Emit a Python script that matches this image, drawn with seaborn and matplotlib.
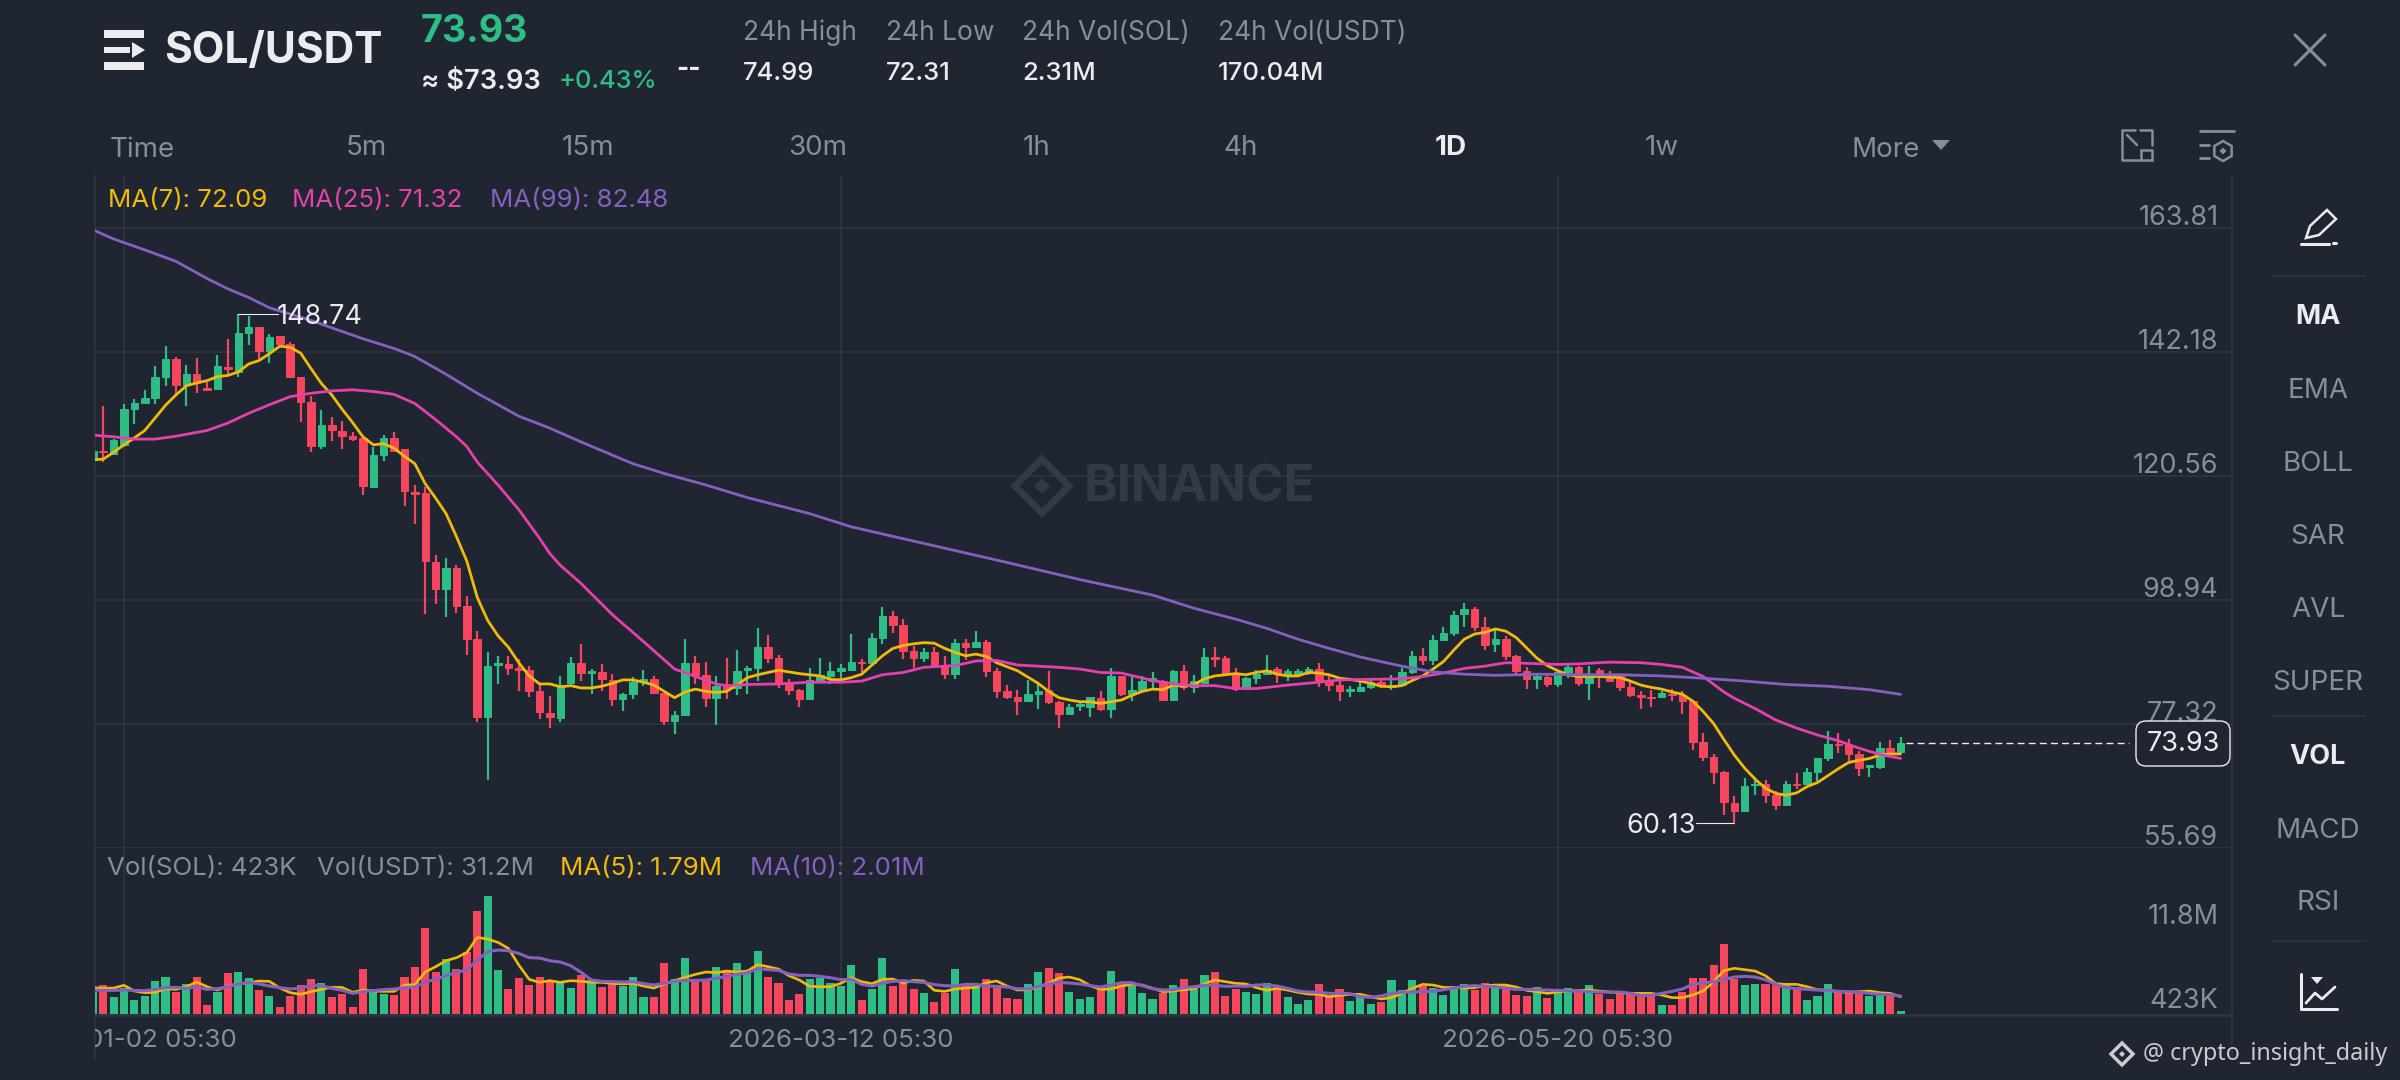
import numpy as np
import pandas as pd
import seaborn as sns
import matplotlib
matplotlib.use("Agg")
import matplotlib.pyplot as plt
from matplotlib.patches import FancyBboxPatch, Polygon, Rectangle, RegularPolygon
from matplotlib.transforms import ScaledTranslation

# ---------- candle data (daily, index 0 = 2026-01-02) ----------
FIRST_INDEX = -3
OPEN = [123.4,125.0,124.4,126.0,132.3,133.3,134.1,137.9,141.0,136.4,138.3,135.9,135.8,139.6,138.7,145.5,146.6,142.4,144.9,143.6,137.8,133.5,125.8,129.5,128.4,127.5,127.2,118.7,124.2,127.2,125.2,117.8,117.6,105.6,100.8,104.6,97.9,92.2,78.5,87.6,87.7,87.1,86.8,83.0,79.3,78.4,84.4,
        88.0,86.2,86.4,85.0,81.6,82.5,84.7,85.2,82.7,77.9,78.9,88.0,85.9,81.9,84.2,83.6,86.7,87.0,90.8,88.8,84.5,83.2,81.6,85.0,85.7,86.6,86.7,88.1,88.0,92.3,96.2,94.6,90.0,88.9,89.8,87.4,86.1,91.4,90.7,91.7,86.6,83.1,82.1,81.4,82.5,83.2,81.2,79.0,
        80.4,80.3,81.9,80.0,85.6,82.5,83.2,84.9,84.9,81.5,86.5,83.7,84.4,89.0,88.8,86.0,83.5,85.3,86.0,86.9,85.9,86.0,86.2,86.9,84.8,84.1,83.1,83.1,83.8,84.7,83.7,84.1,86.3,89.1,88.4,92.0,93.1,96.5,97.4,94.2,91.3,92.1,89.2,86.5,85.2,85.5,84.3,86.4,87.3,
        84.4,86.8,85.3,85.6,83.7,82.4,82.1,82.0,82.5,82.4,81.3,74.2,71.6,68.9,63.6,62.2,66.6,66.9,64.9,63.2,66.9,66.8,68.9,71.3,73.9,73.6,72.0,69.8,69.8,73.2,72.4]
HIGH = [125.0,132.7,127.0,133.1,134.0,135.5,139.8,143.3,141.3,140.0,141.1,137.0,141.6,144.4,148.74,148.4,146.6,145.4,145.0,143.9,137.8,134.5,132.0,130.9,130.2,128.2,127.4,125.7,127.7,128.3,125.3,119.0,118.7,106.7,106.2,105.0,99.7,93.5,89.9,89.2,89.1,88.6,87.5,84.2,82.2,85.7,89.0,
        91.2,86.9,87.7,86.0,82.7,85.5,86.7,85.6,82.8,79.6,92.1,89.2,88.2,85.7,88.9,90.3,87.4,94.0,92.9,89.3,85.1,83.5,87.0,88.8,88.1,87.7,93.0,88.7,93.1,97.7,97.0,95.6,90.9,90.5,90.7,89.2,92.2,92.2,93.5,92.0,87.0,84.2,83.2,85.0,84.3,86.6,81.3,80.8,
        81.0,82.1,83.1,87.0,85.7,85.9,85.6,86.3,85.0,86.7,87.6,85.8,90.5,90.7,89.2,87.1,85.5,86.7,89.3,87.2,86.9,86.9,87.3,88.0,85.9,84.9,83.9,84.7,85.1,85.0,85.9,87.0,90.1,90.5,92.8,94.2,97.0,98.4,97.7,95.9,93.9,92.7,89.4,87.2,86.0,85.7,86.6,87.6,
        87.5,87.4,87.0,86.6,85.7,84.7,83.0,83.2,83.1,83.4,83.1,81.4,75.7,72.0,69.1,64.8,67.9,68.0,67.5,65.6,67.4,68.8,69.6,71.3,76.1,75.7,74.7,72.6,70.1,74.2,74.6,74.99]
LOW = [123.4,123.0,124.2,125.7,129.7,133.2,133.2,136.2,134.7,132.7,135.0,135.3,135.7,138.3,137.8,143.4,141.0,140.2,143.0,137.8,130.0,124.7,125.2,126.7,125.2,126.6,117.2,118.5,123.1,124.7,115.4,112.2,96.5,98.2,96.0,96.7,89.4,77.7,67.6,84.3,85.9,83.0,82.0,78.2,76.7,77.7,84.3,
       84.9,82.5,83.0,80.5,79.6,81.7,84.0,82.5,77.2,75.6,78.8,84.3,80.3,77.1,81.7,82.4,82.5,84.8,87.9,83.6,82.3,80.3,81.6,85.0,84.3,84.9,86.7,86.4,87.9,91.2,93.1,88.6,87.0,88.1,87.3,85.2,85.1,88.5,90.7,85.5,81.8,81.7,78.9,81.2,80.0,80.8,76.7,78.8,
       79.6,78.6,79.6,78.4,82.2,81.4,83.1,83.6,81.5,81.4,83.2,82.7,84.3,87.3,85.9,83.0,83.4,84.3,85.9,84.5,84.9,85.6,85.9,83.7,83.0,81.4,82.1,83.1,83.5,83.6,83.2,84.1,86.0,87.6,87.6,91.9,92.6,94.3,93.6,90.2,89.8,88.5,85.6,83.5,83.5,83.7,83.8,85.3,
       84.0,81.5,83.6,84.7,83.1,82.1,80.0,80.3,81.9,81.3,79.1,72.8,70.9,66.8,61.4,60.13,62.0,65.0,63.6,62.3,63.2,65.9,66.7,67.3,70.8,72.3,70.8,68.3,68.0,69.5,72.2,72.4]
CLOSE = [125.0,124.7,126.9,132.3,133.3,134.1,137.8,141.0,136.4,138.3,136.8,135.5,139.7,139.2,145.5,146.6,142.4,144.8,143.6,137.8,133.5,125.8,129.5,128.5,127.5,127.0,118.9,124.2,127.2,124.9,117.9,117.4,105.7,100.8,104.6,97.9,92.2,78.5,87.5,87.9,87.0,86.8,83.0,79.4,78.6,84.2,88.0,
         86.2,86.5,85.1,81.6,82.5,84.7,85.1,82.8,77.9,78.9,88.0,85.9,81.9,84.0,83.5,86.6,87.1,90.8,88.8,84.7,83.2,81.6,85.0,85.9,86.5,87.0,88.1,87.9,92.3,96.2,94.6,90.1,88.9,89.8,87.4,86.1,91.4,90.8,91.7,86.6,83.1,82.1,81.4,82.5,83.1,81.1,79.0,80.3,
         80.8,82.0,80.0,85.6,82.5,83.2,84.9,85.3,81.5,86.5,83.7,84.9,89.0,88.7,86.0,83.5,85.3,86.0,86.7,86.0,86.5,86.6,86.9,84.8,84.1,83.0,83.5,83.8,84.7,84.1,84.2,86.3,89.1,88.4,92.0,93.1,96.4,97.3,94.3,91.1,92.1,89.2,86.5,85.2,85.7,84.3,86.4,87.3,84.4,
         85.9,85.6,84.8,83.7,82.4,82.1,81.8,82.7,82.3,81.3,74.2,71.6,68.9,63.7,62.2,66.5,66.9,64.9,63.2,66.9,66.6,68.9,71.3,73.9,73.6,72.1,69.7,70.1,73.2,72.4,73.93]

# ---------- moving averages ----------
MA7 = [123.4,123.5,124.7,126.0,127.2,128.5,130.7,132.9,134.7,136.3,136.8,137.2,137.9,138.1,138.7,140.1,140.7,141.9,143.2,143.0,142.0,139.3,136.7,134.7,132.2,129.9,127.4,126.0,126.2,125.4,124.0,122.7,119.2,116.7,114.0,110.0,105.7,99.4,95.4,92.7,90.7,88.0,85.7,84.3,84.3,83.8,84.0,
       83.6,83.6,83.9,84.4,85.0,85.0,84.6,84.1,83.0,81.9,82.9,83.4,83.0,82.8,83.0,84.1,85.4,85.9,86.3,86.7,86.4,86.1,85.9,85.7,85.1,85.0,85.4,86.0,87.6,89.2,90.5,91.0,91.3,91.5,91.4,90.5,89.8,89.2,89.5,89.1,88.0,87.3,86.6,85.5,84.4,83.0,81.9,81.5,
       81.2,81.2,80.9,81.2,81.5,82.3,83.0,83.4,83.3,84.1,83.9,84.2,85.2,85.7,85.9,86.1,85.9,86.3,86.6,86.0,85.7,85.7,86.3,86.2,85.9,85.3,85.1,84.8,84.4,83.9,83.8,84.0,84.9,85.7,86.9,88.2,90.2,92.1,93.0,93.3,93.9,93.5,92.4,90.6,88.8,87.5,86.6,85.9,85.6,
       85.6,85.6,85.5,85.4,84.8,84.1,83.7,83.4,82.9,82.5,81.3,79.5,77.4,74.6,71.9,69.6,67.7,66.1,65.2,64.9,65.3,66.4,67.1,68.3,69.5,70.6,71.0,71.3,71.9,72.1,72.09]
MA25_INDEX = [-3,-1,1,3,5,8,10,12,14,16,18,20,22,24,26,28,30,32,33,34,36,38,40,41,42,44,47,50,53,55,57,58,60,63,66,69,71,73,75,77,80,82,84,86,88,90,92,94,96,99,101,103,105,107,109,112,115,117,120,123,125,127,129,131,133,135,138,140,141,143,146,148,150,152,154,155,157,159,161,163,165,167,169,171]
MA25 = [127.7,127.4,127.0,127.0,127.5,128.5,129.8,131.5,133.0,134.4,135.0,135.4,135.6,135.3,134.8,133.2,130.4,127.4,125.7,123.0,119.0,114.7,109.7,107.0,105.0,101.8,96.4,91.7,86.9,85.6,84.3,84.0,84.2,84.3,84.6,84.6,84.8,85.9,86.3,87.2,87.5,88.3,88.4,87.6,87.4,87.2,86.9,86.3,86.2,84.9,84.3,84.0,84.0,83.5,83.5,84.1,84.6,85.0,85.1,85.2,85.6,86.2,87.0,87.4,88.0,87.9,87.7,87.8,87.9,88.1,88.0,87.7,87.2,85.6,82.9,81.8,80.0,78.0,76.6,75.4,74.4,73.1,72.0,71.32]
MA99_INDEX = [-3,-1,2,5,6,8,10,12,14,16,18,20,23,26,28,31,34,37,38,41,44,49,52,56,60,66,70,77,84,92,99,103,107,110,113,116,119,123,126,129,132,136,140,144,148,152,156,160,164,168,171]
MA99 = [163.5,161.9,160.0,158.0,157.0,155.0,153.2,151.7,149.9,148.8,147.7,146.4,144.5,142.8,141.4,138.3,135.0,132.0,131.0,128.9,126.5,122.7,121.0,119.0,116.8,114.0,111.7,108.8,105.9,102.5,99.8,97.5,95.6,94.0,92.1,90.5,89.0,87.4,86.4,86.0,85.8,86.0,85.9,85.9,85.7,85.3,84.8,84.2,83.9,83.3,82.48]

# ---------- volume (millions of SOL) ----------
VOLUME = [3.04,3.94,2.27,3.49,1.96,2.41,4.44,5.02,3.04,4.12,5.02,1.23,2.95,5.56,5.65,4.93,3.22,2.45,1.01,2.45,3.94,4.71,4.17,2.36,2.68,0.96,6.10,3.13,2.68,2.59,4.98,6.38,11.6,5.65,7.50,6.06,8.45,13.9,16.0,6.01,3.35,4.89,3.94,5.07,4.30,4.39,3.58,5.29,4.62,3.67,
          4.17,3.80,5.02,2.32,2.36,6.96,4.80,7.60,4.62,4.62,6.38,5.92,6.87,5.65,8.54,5.02,4.17,1.87,2.77,4.80,4.89,4.26,3.85,6.65,1.91,3.44,7.60,3.76,4.39,3.44,2.90,1.60,2.81,6.15,3.94,3.80,4.71,3.71,2.18,2.09,4.03,5.70,6.29,5.61,2.95,2.00,2.27,3.49,5.79,
          4.03,3.80,2.90,2.05,2.90,3.90,4.75,3.40,5.29,5.70,2.45,3.40,3.04,2.77,4.21,3.71,2.36,1.32,1.87,4.03,2.36,3.40,1.78,2.36,1.32,1.64,4.62,3.26,4.62,3.76,3.49,2.59,3.35,4.12,3.26,4.26,3.71,3.80,2.59,2.50,3.62,2.14,3.22,3.49,3.04,3.94,2.72,2.00,2.95,
          2.95,2.81,2.81,1.23,1.23,3.04,4.84,4.84,6.65,9.53,4.75,3.94,4.08,4.12,3.94,3.94,3.71,1.96,2.41,4.12,2.95,2.95,3.13,2.45,2.95,2.81,0.423]
VOL_MA5 = [3.58,3.49,3.53,3.90,3.13,2.90,2.95,3.44,3.35,3.71,4.35,3.71,3.26,3.80,4.12,4.26,4.48,4.44,3.53,2.90,2.68,3.04,3.35,3.62,3.62,2.95,3.26,3.13,3.08,3.08,3.94,3.99,5.70,6.42,7.23,7.64,8.34,10.39,10.16,9.71,8.90,6.65,4.71,4.30,4.53,4.30,4.53,4.44,4.30,4.30,
           4.17,4.08,4.17,3.80,3.53,4.08,4.53,4.98,5.38,5.70,5.61,5.83,5.70,5.83,6.69,6.42,6.10,5.20,4.62,3.76,3.71,3.71,4.17,4.93,4.39,4.12,4.71,4.75,4.21,4.57,4.48,3.22,3.08,3.40,3.53,3.62,4.26,4.48,3.80,3.26,3.31,3.62,4.21,4.89,5.02,4.66,3.85,3.35,3.40,
           3.80,4.03,3.94,3.49,3.04,3.13,3.31,3.44,4.12,4.62,4.39,4.17,4.08,3.58,3.22,3.49,3.26,2.95,2.72,2.68,2.36,2.54,2.68,2.68,2.36,2.05,2.23,2.81,3.49,4.03,3.94,3.62,3.62,3.53,3.58,3.85,3.94,3.94,3.67,3.22,3.04,2.81,2.99,3.13,3.17,3.26,3.13,2.99,2.90,
           2.81,2.81,2.81,2.59,2.23,2.23,2.59,3.13,4.39,5.88,6.20,6.02,5.83,5.20,4.12,4.03,4.03,3.71,3.31,3.22,3.04,2.95,3.04,3.13,2.90,2.81,2.36]
VOL_MA10 = [3.26,3.22,3.22,3.26,3.22,3.17,3.35,3.58,3.62,3.49,3.67,3.35,3.44,3.71,4.08,4.30,4.08,3.80,3.58,3.40,3.53,3.85,3.85,3.49,3.22,2.81,3.04,3.17,3.31,3.40,3.58,3.67,4.35,4.71,5.20,5.65,5.97,7.32,8.45,8.68,8.59,8.22,7.64,7.59,7.23,7.05,6.56,5.65,4.62,4.44,
            4.39,4.35,4.39,4.12,3.94,4.17,4.44,4.57,4.57,4.62,4.84,5.11,5.38,5.61,6.15,6.02,5.92,5.43,5.25,5.25,5.11,4.93,4.66,4.71,4.03,3.80,4.17,4.44,4.53,4.39,4.30,3.99,3.85,3.80,4.03,4.03,3.80,3.76,3.67,3.44,3.40,3.71,4.08,4.30,4.21,4.08,3.85,3.67,3.94,
            4.26,4.26,3.85,3.44,3.26,3.31,3.58,3.71,3.90,3.90,3.76,3.80,3.76,3.94,3.94,3.80,3.49,3.13,2.99,2.95,2.81,2.81,2.77,2.36,2.27,2.45,2.81,2.95,2.99,3.04,3.08,3.31,3.53,3.76,3.85,3.76,3.71,3.49,3.35,3.35,3.31,3.26,3.22,3.13,3.13,3.04,2.99,2.99,2.99,
            2.81,2.54,2.54,2.81,3.08,3.40,4.03,4.21,4.39,4.71,5.02,5.11,5.02,4.66,4.03,3.58,3.44,3.35,3.26,3.22,3.08,3.04,2.99,2.81,2.68,2.63,2.45]

PRICE_TICKS = [163.81, 142.18, 120.56, 98.94, 77.32, 55.69]
VOL_TICKS = [11.8, 0.423]
VOL_TICK_LABELS = ["11.8M", "423K"]
DATE_TICKS = [0, 69, 138]
DATE_LABELS = ["2026-01-02 05:30", "2026-03-12 05:30", "2026-05-20 05:30"]
LAST_PRICE = 73.93
TIMEFRAMES = ["5m", "15m", "30m", "1h", "4h", "1D", "1w"]
SIDE_BUTTONS = ["MA", "EMA", "BOLL", "SAR", "AVL", "SUPER", "VOL", "MACD", "RSI"]

# ---------- style ----------
BG = "#1F2631"; GRID = "#2E3440"; GREY = "#848E9C"; WHITE = "#EAECEF"
UP = "#2EBD85"; DOWN = "#F6465D"; C7 = "#F0B90B"; C25 = "#E63FAE"; C99 = "#8660BE"

sns.set_theme(style="dark", rc={"axes.facecolor": BG, "figure.facecolor": BG, "savefig.facecolor": BG})
plt.rcParams["font.family"] = ["Inter", "DejaVu Sans"]

W, H = 2400, 1080
fig = plt.figure(figsize=(W / 100, H / 100), dpi=100)


def panel(x0, y0, x1, y1):
    return fig.add_axes([x0 / W, 1 - y1 / H, (x1 - x0) / W, (y1 - y0) / H])


XLIM = (-2.79, 202.9)
ax = panel(95, 176, 2232, 848)
axv = panel(95, 848, 2232, 1015)
axd = panel(95, 1015, 2232, 1058)

idx = np.arange(FIRST_INDEX, FIRST_INDEX + len(CLOSE))
df = pd.DataFrame({"i": idx, "open": OPEN, "high": HIGH, "low": LOW, "close": CLOSE, "vol": VOLUME,
                   "ma7": MA7, "v5": VOL_MA5, "v10": VOL_MA10})
df["dir"] = np.where(df["close"] >= df["open"], "up", "down")
col = df["dir"].map({"up": UP, "down": DOWN})

# price panel
ax.vlines(df["i"], df["low"], df["high"], colors=col, linewidth=1.6, zorder=3)
ax.bar(df["i"], (df["close"] - df["open"]).abs(), bottom=df[["open", "close"]].min(axis=1), width=0.72,
       color=col, edgecolor=col, linewidth=0.7, zorder=3)
for xs, ys, c in [(df["i"], df["ma7"], C7), (MA25_INDEX, MA25, C25), (MA99_INDEX, MA99, C99)]:
    sns.lineplot(x=list(xs), y=list(ys), color=c, linewidth=2.0, estimator=None, sort=False, ax=ax, zorder=4)

# high / low call-outs
NUDGE = ScaledTranslation(0, -3 / 100, fig.dpi_scale_trans)
hi = df.loc[df["high"].idxmax()]
lo = df.loc[df["low"].idxmin()]
ax.plot([hi["i"], hi["i"] + 3.8], [hi["high"]] * 2, color=WHITE, lw=0.8, zorder=5)
ax.text(hi["i"] + 3.7, hi["high"], "148.74", color=WHITE, fontsize=19.5, ha="left", va="center", zorder=6,
        transform=ax.transData + NUDGE)
ax.plot([lo["i"], lo["i"] - 3.7], [lo["low"]] * 2, color=WHITE, lw=0.8, zorder=5)
ax.text(lo["i"] - 3.7, lo["low"], "60.13", color=WHITE, fontsize=19.5, ha="right", va="center", zorder=6,
        transform=ax.transData + NUDGE)
ax.plot([df["i"].iloc[-1] + 0.5, 193], [LAST_PRICE] * 2, color=WHITE, lw=1.0, ls=(0, (5, 3)), zorder=5)

ax.set_xlim(XLIM)
ax.set_ylim(55.69, 172.88)
ax.set_yticks(PRICE_TICKS)
ax.set_yticklabels([f"{t:.2f}" for t in PRICE_TICKS])

# volume panel
sns.barplot(data=df, x="i", y="vol", hue="dir", palette={"up": UP, "down": DOWN}, native_scale=True, dodge=False,
            width=0.78, legend=False, errorbar=None, saturation=1, edgecolor="none", linewidth=0, ax=axv, zorder=3)
sns.lineplot(data=df, x="i", y="v5", color=C7, linewidth=1.9, estimator=None, sort=False, ax=axv, zorder=4)
sns.lineplot(data=df, x="i", y="v10", color=C99, linewidth=2.2, estimator=None, sort=False, ax=axv, zorder=5)
axv.set_xlim(XLIM)
axv.set_ylim(-0.119, 22.49)
axv.set_yticks(VOL_TICKS)
axv.set_yticklabels(VOL_TICK_LABELS)

for a in (ax, axv):
    a.set_xlabel(""); a.set_ylabel("")
    a.set_xticks(DATE_TICKS)
    a.set_xticklabels([])
    a.tick_params(axis="x", length=0)
    a.yaxis.tick_right()
    a.tick_params(axis="y", length=0, pad=-9.8, labelsize=19.5, labelcolor=GREY, labelright=True, labelleft=False)
    for tick in a.yaxis.get_major_ticks():
        lab = tick.label2
        lab.set_ha("right"); lab.set_va("bottom")
        lab.set_transform(lab.get_transform() + NUDGE)
    a.grid(True, axis="x", color=GRID, lw=1.2, zorder=0)
    a.set_axisbelow(True)
    a.spines["top"].set_visible(False)
    for s in ("left", "right", "bottom"):
        a.spines[s].set_color(GRID); a.spines[s].set_linewidth(1.2)
ax.grid(True, axis="y", color=GRID, lw=1.2)
axv.grid(False, axis="y")
axv.spines["bottom"].set_linewidth(2)

# date strip
axd.set_xlim(XLIM); axd.set_ylim(0, 1)
axd.set_xticks([]); axd.set_yticks([])
axd.patch.set_alpha(0)
for s in ("top", "bottom"):
    axd.spines[s].set_visible(False)
for s in ("left", "right"):
    axd.spines[s].set_color(GRID); axd.spines[s].set_linewidth(1.2)
for t, s in zip(DATE_TICKS, DATE_LABELS):
    axd.text(t, 0.40, s, color=GREY, fontsize=18.7, ha="center", va="center", clip_on=True)

# ---------- overlay: header, legends, buttons ----------
ov = fig.add_axes([0, 0, 1, 1], zorder=10)
ov.set_xlim(0, W); ov.set_ylim(H, 0); ov.axis("off"); ov.patch.set_alpha(0)


def txt(x, y, s, color=GREY, size=19, weight="normal", ha="left", **kw):
    ov.text(x, y, s, color=color, fontsize=size, fontweight=weight, ha=ha, va="center", **kw)


# logo
for (x0, y0, x1, y1) in [(104, 30, 144, 38), (104, 47, 130, 53), (104, 62, 144, 70)]:
    ov.add_patch(Rectangle((x0, y0), x1 - x0, y1 - y0, color=WHITE, lw=0))
ov.add_patch(Polygon([(132, 42), (145, 50), (132, 58)], color=WHITE, lw=0))

txt(164, 52, "SOL/USDT", WHITE, 30.5, "bold")
txt(421, 32, "73.93", UP, 27, "bold")
txt(421, 82, "≈ $73.93", WHITE, 19.7, "semibold")
txt(559, 82, "+0.43%", UP, 18.3, "medium")
txt(676, 70, "--", WHITE, 19, "bold")
for x, head, val in [(743, "24h High", "74.99"), (886, "24h Low", "72.31"), (1022, "24h Vol(SOL)", "2.31M"), (1218, "24h Vol(USDT)", "170.04M")]:
    txt(x, 33, head, GREY, 19)
    txt(x, 74, val, WHITE, 18.5, "medium")

txt(110, 150, "Time", GREY, 20)
for x, s in zip([366, 588, 818, 1037, 1241, 1451, 1662], TIMEFRAMES):
    if s == "1D":
        txt(x, 148, s, WHITE, 20, "bold", ha="center")
    else:
        txt(x, 148, s, GREY, 20, ha="center")
txt(1852, 150, "More", GREY, 20)
ov.add_patch(Polygon([(1932, 140), (1950, 140), (1941, 150)], color=GREY, lw=0))

# top-right icons
ov.plot([2295, 2325], [35, 65], color=GREY, lw=2.2, solid_capstyle="round")
ov.plot([2295, 2325], [65, 35], color=GREY, lw=2.2, solid_capstyle="round")
ov.plot([2135, 2122, 2122, 2140], [130, 130, 160, 160], color=GREY, lw=1.8)
ov.plot([2140, 2152, 2152], [130, 130, 145], color=GREY, lw=1.8)
ov.add_patch(Rectangle((2141, 150), 11, 10, fill=False, ec=GREY, lw=1.8))
ov.plot([2127, 2137], [135, 145], color=GREY, lw=1.8)
ov.plot([2200, 2234], [131, 131], color=GREY, lw=2)
ov.plot([2200, 2209], [145, 145], color=GREY, lw=2)
ov.plot([2200, 2209], [158, 158], color=GREY, lw=2)
ov.add_patch(RegularPolygon((2223, 151), 6, radius=10, fill=False, ec=GREY, lw=1.8))
ov.add_patch(RegularPolygon((2223, 151), 4, radius=3.5, color=GREY, lw=0))

# legends
for x, s, c in [(108, "MA(7): 72.09", C7), (292, "MA(25): 71.32", C25), (490, "MA(99): 82.48", C99)]:
    txt(x, 200, s, c, 18.6)
for x, s, c in [(107, "Vol(SOL): 423K", GREY), (317, "Vol(USDT): 31.2M", GREY), (560, "MA(5): 1.79M", C7), (750, "MA(10): 2.01M", C99)]:
    txt(x, 868, s, c, 18.6)

# side buttons
for y, s in zip([317, 391, 464, 537, 610, 683, 757, 831, 903], SIDE_BUTTONS):
    if s in ("MA", "VOL"):
        txt(2318, y, s, WHITE, 19.5, "bold", ha="center")
    else:
        txt(2318, y, s, GREY, 20, ha="center")
for y in (276, 716, 941):
    ov.plot([2272, 2365], [y, y], color=GRID, lw=1.2)

# pencil
ov.plot([2301, 2329], [244, 244], color=WHITE, lw=2.2)
ov.plot([2333, 2336], [243, 243], color=WHITE, lw=2.2)
ov.add_patch(Polygon([(2306, 238), (2310, 226), (2327, 210), (2336, 219), (2319, 235)], fill=False, ec=WHITE, lw=1.8))
# chart icon
ov.plot([2301, 2301, 2337], [974, 1009, 1009], color=WHITE, lw=2.2)
ov.plot([2306, 2315, 2322, 2335], [1003, 993, 999, 987], color=WHITE, lw=2)
ov.add_patch(Polygon([(2311, 977), (2323, 977), (2317, 984)], color=WHITE, lw=0))

# current price tag
ov.add_patch(FancyBboxPatch((2136, 721), 94, 45, boxstyle="round,pad=0,rounding_size=10", fc=BG, ec=WHITE, lw=1))
txt(2183, 744, "73.93", WHITE, 19.5, ha="center")

# BINANCE watermark
WM = "#333A46"
txt(1084, 488, "BINANCE", WM, 36.5, "bold")
ov.add_patch(RegularPolygon((1042, 486), 4, radius=27, fill=False, ec=WM, lw=5))
ov.add_patch(RegularPolygon((1042, 486), 4, radius=8, color=WM, lw=0))

# image signature
txt(2143, 1054, "@ crypto_insight_daily", "#C9CCD1", 16.8, family=["Noto Sans", "DejaVu Sans"])
ov.add_patch(RegularPolygon((2122, 1054), 4, radius=11, fill=False, ec="#C9CCD1", lw=2.5))
ov.add_patch(RegularPolygon((2122, 1054), 4, radius=3, color="#C9CCD1", lw=0))

fig.savefig("out.png", dpi=100, facecolor=BG)
